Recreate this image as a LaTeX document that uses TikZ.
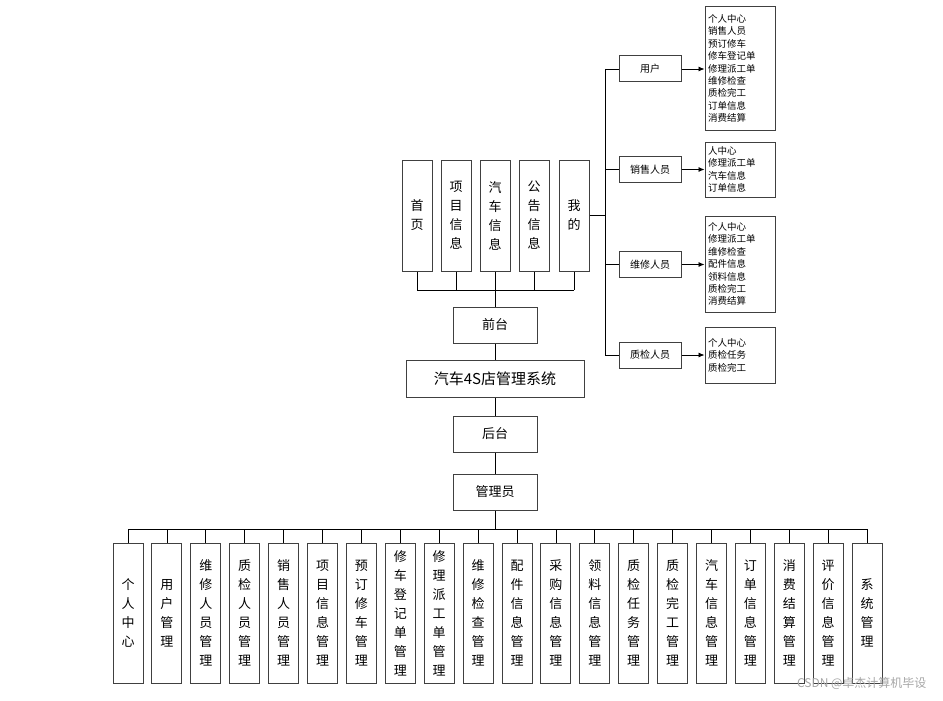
\documentclass[tikz,border=0pt]{standalone}
\usepackage{fontspec}
\setmainfont{Noto Sans CJK SC}
\usetikzlibrary{arrows.meta}
\begin{document}
\begin{tikzpicture}[x=1pt,y=-1pt,
 box/.style={draw=black!75,line width=1pt,inner sep=0pt},
 vbox/.style={box,minimum width=30pt,align=center,font=\fontsize{13}{19}\selectfont},
 hbox/.style={box,minimum width=84pt,minimum height=36pt,font=\fontsize{13}{16}\selectfont},
 rbox/.style={box,minimum width=62pt,minimum height=26pt,font=\fontsize{10}{12}\selectfont},
 dbox/.style={box,minimum width=70pt,text width=64pt,align=left,font=\fontsize{9.5}{12.4}\selectfont},
 ln/.style={draw=black,line width=0.8pt},
 arr/.style={ln,-{Latex[length=6pt,width=5pt]}}]
\useasboundingbox (0,0) rectangle (943,701);
% top
\foreach \n/\x/\t in {a/417/首\\页, b/456/项\\目\\信\\息, c/495/汽\\车\\信\\息, d/534/公\\告\\信\\息, e/574/我\\的}
 \node[vbox,minimum height=111pt] (\n) at (\x,215.5) {\t};
\node[hbox] (qt) at (495,325) {前台};
\node[box,minimum width=178pt,minimum height=37pt,font=\fontsize{15}{18}\selectfont] (sys) at (495,378.5) {汽车4S店管理系统};
\node[hbox] (ht) at (495,434) {后台};
\node[hbox] (gly) at (495,492) {管理员};
\foreach \n in {a,b,c,d,e} \draw[ln] (\n.south) -- (\n.south|-0,290);
\draw[ln] (a.south|-0,290) -- (e.south|-0,290);
\draw[ln] (qt.north|-0,290) -- (qt.north);
\draw[ln] (qt) -- (sys); \draw[ln] (sys) -- (ht); \draw[ln] (ht) -- (gly);
% right
\coordinate (bus) at (605,215);
\draw[ln] (e.east|-bus) -- (bus);
\node[rbox] (u) at (650,69) {用户};
\node[rbox] (s) at (650,169.5) {销售人员};
\node[rbox] (w) at (650,264.5) {维修人员};
\node[rbox] (z) at (650,355) {质检人员};
\draw[ln] (605,69) -- (605,355);
\foreach \n in {u,s,w,z} \draw[ln] (605,0|-\n) -- (\n.west);
\node[dbox,minimum height=123pt] (du) at (740,68.5) {个人中心\\销售人员\\预订修车\\修车登记单\\修理派工单\\维修检查\\质检完工\\订单信息\\消费结算};
\node[dbox,minimum height=55pt] (ds) at (740,169.5) {人中心\\修理派工单\\汽车信息\\订单信息};
\node[dbox,minimum height=96pt] (dw) at (740,264) {个人中心\\修理派工单\\维修检查\\配件信息\\领料信息\\质检完工\\消费结算};
\node[dbox,minimum height=56pt] (dz) at (740,355) {个人中心\\质检任务\\质检完工};
\draw[arr] (u) -- (du.west|-u); \draw[arr] (s) -- (ds.west|-s);
\draw[arr] (w) -- (dw.west|-w); \draw[arr] (z) -- (dz.west|-z);
% bottom
\foreach \i/\t in {0/个\\人\\中\\心, 1/用\\户\\管\\理, 2/维\\修\\人\\员\\管\\理, 3/质\\检\\人\\员\\管\\理, 4/销\\售\\人\\员\\管\\理, 5/项\\目\\信\\息\\管\\理, 6/预\\订\\修\\车\\管\\理, 7/修\\车\\登\\记\\单\\管\\理, 8/修\\理\\派\\工\\单\\管\\理, 9/维\\修\\检\\查\\管\\理, 10/配\\件\\信\\息\\管\\理, 11/采\\购\\信\\息\\管\\理, 12/领\\料\\信\\息\\管\\理, 13/质\\检\\任\\务\\管\\理, 14/质\\检\\完\\工\\管\\理, 15/汽\\车\\信\\息\\管\\理, 16/订\\单\\信\\息\\管\\理, 17/消\\费\\结\\算\\管\\理, 18/评\\价\\信\\息\\管\\理, 19/系\\统\\管\\理}{
 \node[vbox,minimum height=140pt] (m\i) at (128+38.9*\i,613) {\t};
 \draw[ln] (m\i.north) -- (m\i.north|-0,529);
}
\draw[ln] (m0.north|-0,529) -- (m19.north|-0,529);
\draw[ln] (gly) -- (gly.south|-0,529);
\node[text=black!35,font=\fontsize{12}{14}\selectfont,anchor=east] (wm) at (930,683) {CSDN @卓杰计算机毕设};
\end{tikzpicture}
\end{document}
